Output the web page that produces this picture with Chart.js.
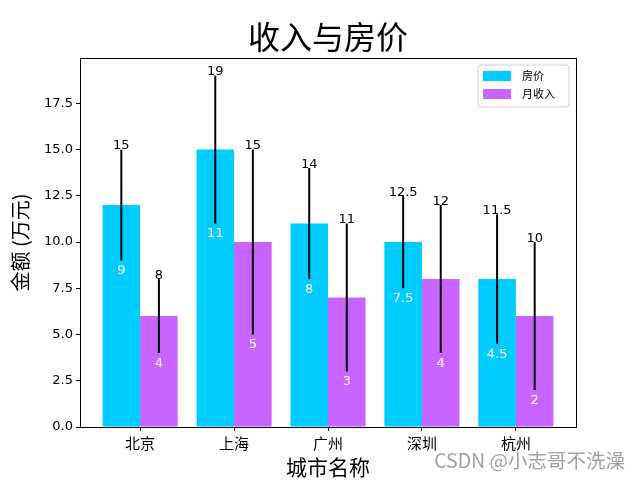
<!DOCTYPE html>
<html>
<head>
<meta charset="utf-8">
<script src="https://cdn.jsdelivr.net/npm/chart.js@4/dist/chart.umd.min.js"></script>
<style>
  html, body { margin: 0; padding: 0; background: #fff; }
  #wrap { width: 640px; height: 480px; }
</style>
</head>
<body>
<div id="wrap"><canvas id="chart" width="640" height="480"></canvas></div>
<script>
const cities = ["北京", "上海", "广州", "深圳", "杭州"];
const housePrice = [12, 15, 11, 10, 8];
const houseMin = [9, 11, 8, 7.5, 4.5];
const houseMax = [15, 19, 14, 12.5, 11.5];
const income = [6, 10, 7, 8, 6];
const incomeMin = [4, 5, 3, 4, 2];
const incomeMax = [8, 15, 11, 12, 10];

const CJK = "'Noto Sans CJK SC', 'Noto Sans', sans-serif";
const NUM = "'DejaVu Sans', sans-serif";

// range lines with min/max labels, frame, legend, title and watermark
const rangePlugin = {
  id: "ranges",
  afterDatasetsDraw(chart) {
    const { ctx, chartArea: { top, bottom, left, right }, scales: { y } } = chart;
    const ranges = [[houseMin, houseMax], [incomeMin, incomeMax]];
    ctx.save();
    ranges.forEach(([mins, maxs], di) => {
      const meta = chart.getDatasetMeta(di);
      meta.data.forEach((bar, i) => {
        const yTop = y.getPixelForValue(maxs[i]);
        const yBot = y.getPixelForValue(mins[i]);
        ctx.strokeStyle = "#000";
        ctx.lineWidth = 2;
        ctx.beginPath();
        ctx.moveTo(bar.x, yTop);
        ctx.lineTo(bar.x, yBot);
        ctx.stroke();
        ctx.font = "13px " + NUM;
        ctx.textAlign = "center";
        ctx.fillStyle = "#000";
        ctx.textBaseline = "bottom";
        ctx.fillText(String(maxs[i]), bar.x, yTop + 3);
        ctx.fillStyle = "#fff";
        ctx.textBaseline = "top";
        ctx.fillText(String(mins[i]), bar.x, yBot + 4);
      });
    });

    // axes frame
    ctx.strokeStyle = "#000";
    ctx.lineWidth = 1;
    ctx.strokeRect(left + 0.5, top + 0.5, right - left, bottom - top);

    // legend
    const lx = right - 98, ly = top + 7;
    ctx.fillStyle = "rgba(255,255,255,0.8)";
    ctx.strokeStyle = "#d0d0d0";
    ctx.beginPath();
    ctx.roundRect(lx, ly, 91, 42, 3);
    ctx.fill();
    ctx.stroke();
    chart.data.datasets.forEach((ds, i) => {
      ctx.fillStyle = ds.backgroundColor;
      ctx.fillRect(lx + 5, ly + 6 + i * 18, 28, 10);
      ctx.fillStyle = "#000";
      ctx.font = "11px " + CJK;
      ctx.textAlign = "left";
      ctx.textBaseline = "middle";
      ctx.fillText(ds.label, lx + 44, ly + 11 + i * 18);
    });

    // title
    ctx.fillStyle = "#000";
    ctx.font = "32px " + CJK;
    ctx.textAlign = "center";
    ctx.textBaseline = "middle";
    ctx.fillText("收入与房价", (left + right) / 2, 37);

    // watermark
    ctx.fillStyle = "rgba(150,150,150,0.9)";
    ctx.font = "19.5px " + CJK;
    ctx.textAlign = "right";
    ctx.textBaseline = "middle";
    ctx.fillText("CSDN @小志哥不洗澡", 625, 461);
    ctx.restore();
  },
};

new Chart(document.getElementById("chart"), {
  type: "bar",
  data: {
    datasets: [
      {
        label: "房价",
        data: housePrice.map((v, i) => ({ x: i, y: v })),
        backgroundColor: "#00ccff",
      },
      {
        label: "月收入",
        data: income.map((v, i) => ({ x: i, y: v })),
        backgroundColor: "#c864ff",
      },
    ],
  },
  options: {
    responsive: false,
    animation: false,
    devicePixelRatio: 1,
    categoryPercentage: 0.8,
    barPercentage: 1.0,
    layout: { padding: { left: 0, right: 64, top: 58, bottom: 0 } },
    scales: {
      x: {
        type: "linear",
        offset: false,
        min: -0.64,
        max: 4.64,
        afterBuildTicks: (s) => { s.ticks = cities.map((c, i) => ({ value: i })); },
        afterFit: (s) => { s.height = 53; },
        ticks: {
          callback: (v) => cities[v],
          color: "#000",
          font: { size: 15, family: CJK },
          padding: 3,
          maxRotation: 0,
          autoSkip: false,
        },
        grid: { offset: false, drawOnChartArea: false, drawTicks: true, tickLength: 4, color: "#000" },
        border: { display: false },
        title: {
          display: true,
          text: "城市名称",
          color: "#000",
          font: { size: 21, family: CJK },
          padding: { top: 0, bottom: 0 },
        },
      },
      y: {
        min: 0,
        max: 19.95,
        afterFit: (s) => { s.width = 80; },
        ticks: {
          stepSize: 2.5,
          includeBounds: false,
          callback: (v) => v.toFixed(1),
          color: "#000",
          font: { size: 13, family: NUM },
          padding: 3,
        },
        grid: { drawOnChartArea: false, drawTicks: true, tickLength: 4, color: "#000" },
        border: { display: false },
        title: {
          display: true,
          text: "金额 (万元)",
          color: "#000",
          font: { size: 20, family: CJK },
          padding: { top: 8, bottom: 4 },
        },
      },
    },
    plugins: {
      legend: { display: false },
      tooltip: { enabled: false },
      title: { display: false },
    },
  },
  plugins: [rangePlugin],
});
</script>
</body>
</html>
